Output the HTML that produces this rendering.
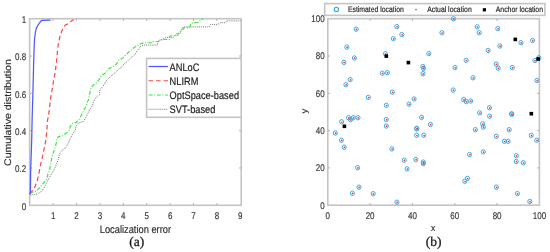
<!DOCTYPE html>
<html><head><meta charset="utf-8"><title>Figure</title>
<style>html,body{margin:0;padding:0;background:#fff;width:550px;height:252px;overflow:hidden}svg{display:block}</style>
</head><body>
<svg width="550" height="252" viewBox="0 0 550 252" text-rendering="geometricPrecision"><rect width="550" height="252" fill="#fff"/><rect x="29.65" y="18.7" width="211.55" height="186.60" fill="none" stroke="#c4c4c4" stroke-width="1.6"/>
<path d="M53.10 205.3v-2.2M53.10 18.7v2.2M76.50 205.3v-2.2M76.50 18.7v2.2M99.90 205.3v-2.2M99.90 18.7v2.2M123.30 205.3v-2.2M123.30 18.7v2.2M146.70 205.3v-2.2M146.70 18.7v2.2M170.10 205.3v-2.2M170.10 18.7v2.2M193.50 205.3v-2.2M193.50 18.7v2.2M216.90 205.3v-2.2M216.90 18.7v2.2M29.65 167.98h2.2M241.2 167.98h-2.2M29.65 130.66h2.2M241.2 130.66h-2.2M29.65 93.34h2.2M241.2 93.34h-2.2M29.65 56.02h2.2M241.2 56.02h-2.2" stroke="#b2b2b2" stroke-width="1.0" fill="none"/>
<text transform="translate(53.10 218.80) scale(1 1.22)" text-anchor="middle" font-family="'Liberation Sans', Arial, sans-serif" font-size="8.0" fill="#3a3a3a" stroke="#3a3a3a" stroke-width="0.15">1</text><text transform="translate(76.50 218.80) scale(1 1.22)" text-anchor="middle" font-family="'Liberation Sans', Arial, sans-serif" font-size="8.0" fill="#3a3a3a" stroke="#3a3a3a" stroke-width="0.15">2</text><text transform="translate(99.90 218.80) scale(1 1.22)" text-anchor="middle" font-family="'Liberation Sans', Arial, sans-serif" font-size="8.0" fill="#3a3a3a" stroke="#3a3a3a" stroke-width="0.15">3</text><text transform="translate(123.30 218.80) scale(1 1.22)" text-anchor="middle" font-family="'Liberation Sans', Arial, sans-serif" font-size="8.0" fill="#3a3a3a" stroke="#3a3a3a" stroke-width="0.15">4</text><text transform="translate(146.70 218.80) scale(1 1.22)" text-anchor="middle" font-family="'Liberation Sans', Arial, sans-serif" font-size="8.0" fill="#3a3a3a" stroke="#3a3a3a" stroke-width="0.15">5</text><text transform="translate(170.10 218.80) scale(1 1.22)" text-anchor="middle" font-family="'Liberation Sans', Arial, sans-serif" font-size="8.0" fill="#3a3a3a" stroke="#3a3a3a" stroke-width="0.15">6</text><text transform="translate(193.50 218.80) scale(1 1.22)" text-anchor="middle" font-family="'Liberation Sans', Arial, sans-serif" font-size="8.0" fill="#3a3a3a" stroke="#3a3a3a" stroke-width="0.15">7</text><text transform="translate(216.90 218.80) scale(1 1.22)" text-anchor="middle" font-family="'Liberation Sans', Arial, sans-serif" font-size="8.0" fill="#3a3a3a" stroke="#3a3a3a" stroke-width="0.15">8</text><text transform="translate(240.30 218.80) scale(1 1.22)" text-anchor="middle" font-family="'Liberation Sans', Arial, sans-serif" font-size="8.0" fill="#3a3a3a" stroke="#3a3a3a" stroke-width="0.15">9</text><text transform="translate(26.20 209.50) scale(1 1.22)" text-anchor="end" font-family="'Liberation Sans', Arial, sans-serif" font-size="8.0" fill="#3a3a3a" stroke="#3a3a3a" stroke-width="0.15">0</text><text transform="translate(26.20 172.18) scale(1 1.22)" text-anchor="end" font-family="'Liberation Sans', Arial, sans-serif" font-size="8.0" fill="#3a3a3a" stroke="#3a3a3a" stroke-width="0.15">0.2</text><text transform="translate(26.20 134.86) scale(1 1.22)" text-anchor="end" font-family="'Liberation Sans', Arial, sans-serif" font-size="8.0" fill="#3a3a3a" stroke="#3a3a3a" stroke-width="0.15">0.4</text><text transform="translate(26.20 97.54) scale(1 1.22)" text-anchor="end" font-family="'Liberation Sans', Arial, sans-serif" font-size="8.0" fill="#3a3a3a" stroke="#3a3a3a" stroke-width="0.15">0.6</text><text transform="translate(26.20 60.22) scale(1 1.22)" text-anchor="end" font-family="'Liberation Sans', Arial, sans-serif" font-size="8.0" fill="#3a3a3a" stroke="#3a3a3a" stroke-width="0.15">0.8</text><text transform="translate(26.20 22.90) scale(1 1.22)" text-anchor="end" font-family="'Liberation Sans', Arial, sans-serif" font-size="8.0" fill="#3a3a3a" stroke="#3a3a3a" stroke-width="0.15">1</text>
<text transform="translate(135.40 232.90) scale(1 1.17)" text-anchor="middle" font-family="'Liberation Sans', Arial, sans-serif" font-size="9.3" fill="#2e2e2e" stroke="#2e2e2e" stroke-width="0.15">Localization error</text>
<text transform="translate(10.90 112.60) scale(1 1.1) rotate(-90)" text-anchor="middle" font-family="'Liberation Sans', Arial, sans-serif" font-size="9.6" fill="#2e2e2e" stroke="#2e2e2e" stroke-width="0.15">Cumulative distribution</text>
<text x="136.8" y="245.9" text-anchor="middle" font-family="'Liberation Serif', 'Times New Roman', serif" font-size="13.5" fill="#141414" stroke="#141414" stroke-width="0.25">(a)</text>
<g fill="none" stroke-linejoin="round">
<polyline points="29.6,194.9 32.8,194.9 37.5,193.8 41.5,191.4 43.9,188.2 46.3,183.4 48.7,178.7 51.1,174.7 53.4,170.7 55.8,165.9 58.2,159.6 59.3,154.9 60.9,151.7 63.3,149.4 65.6,147.8 68.0,143.8 70.4,138.3 72.8,133.5 75.2,130.3 76.0,126.3 78.3,123.2 83.1,121.6 83.8,121.5 85.4,118.3 87.8,113.6 90.2,108.8 92.5,105.6 94.1,100.1 96.5,96.9 99.7,94.5 99.8,89.7 102.9,86.5 106.1,81.0 110.9,76.2 114.8,73.0 118.0,69.8 121.2,67.5 124.4,63.5 126.7,61.9 129.9,58.7 132.1,56.8 134.5,55.0 137.3,50.6 140.5,46.4 144.6,45.0 157.5,45.0 157.9,43.1 158.7,40.5 164.3,38.5 165.5,37.5 173.0,37.5 175.4,35.6 176.2,33.6 180.2,33.2 181.3,29.6 183.3,26.9 209.5,26.9 210.5,24.4 217.9,24.4 220.0,22.7 225.2,22.7 226.7,20.9 240.5,20.9" stroke="#6a6a6a" stroke-width="0.95" stroke-dasharray="1 1.1"/>
<polyline points="29.6,193.3 31.2,192.7 35.2,191.4 37.5,189.8 39.9,187.4 42.3,184.2 44.7,181.8 47.1,178.7 47.9,173.9 49.5,170.7 50.3,165.9 51.8,158.0 52.9,154.1 54.5,149.4 56.1,143.8 56.9,138.3 58.5,136.7 62.5,135.9 65.6,133.5 68.8,131.1 70.4,126.3 72.8,123.2 76.0,122.4 78.3,120.7 80.6,116.7 83.0,112.0 85.4,107.2 87.0,103.3 88.9,98.5 89.8,92.9 91.0,88.2 93.3,85.0 95.0,84.1 98.2,81.0 101.3,75.4 104.5,73.8 108.5,69.0 112.5,66.7 115.6,65.1 118.8,60.3 122.8,57.9 126.0,54.8 129.1,51.6 131.5,50.0 134.2,47.4 139.4,44.3 143.6,42.8 151.6,42.7 153.2,41.5 158.7,41.5 160.2,40.4 163.9,39.5 169.4,39.5 169.8,36.0 177.0,35.6 178.2,34.4 180.6,31.6 181.7,30.4 184.0,28.0 189.6,27.6 191.1,23.0 198.0,22.3 202.2,19.2 203.2,18.9" stroke="#3ee83e" stroke-width="1.2" stroke-dasharray="4 1.6 1 1.6"/>
<polyline points="29.6,193.6 31.9,191.4 34.3,188.2 35.9,184.2 37.4,180.3 39.0,173.1 40.6,164.4 42.2,158.0 43.9,150.0 45.7,140.6 46.5,134.3 47.6,120.0 48.9,113.0 50.3,100.0 51.9,91.0 53.4,82.0 54.8,74.3 55.5,69.5 56.7,60.0 57.6,50.0 58.3,44.0 59.4,39.0 60.1,36.0 61.5,32.0 62.5,29.5 63.8,27.0 64.9,25.3 67.3,24.1 68.5,22.8 70.2,21.7 72.6,20.2 75.6,19.2" stroke="#ff4444" stroke-width="1.2" stroke-dasharray="4.5 3"/>
<polyline points="29.6,194.0 30.4,193.5 30.6,175.0 31.0,160.0 31.7,140.0 32.1,120.0 33.0,90.0 33.6,65.0 33.9,55.0 34.2,46.0 34.6,38.5 35.3,33.0 36.1,29.0 37.2,26.5 38.5,24.3 39.8,22.5 40.9,21.1 41.7,20.3 50.6,20.2" stroke="#4f57ff" stroke-width="1.25"/>
</g>
<rect x="146.6" y="58.4" width="94.6" height="58.9" fill="#fff" stroke="#c4c4c4" stroke-width="1.6"/>
<line x1="148.6" x2="168" y1="66.50" y2="66.50" stroke="#4c55ff" stroke-width="1.2" stroke-dasharray="none"/>
<text transform="translate(169.60 70.60) scale(1 1.17)" text-anchor="start" font-family="'Liberation Sans', Arial, sans-serif" font-size="9.25" fill="#1a1a1a" stroke="#1a1a1a" stroke-width="0.15">ANLoC</text>
<line x1="148.6" x2="168" y1="80.75" y2="80.75" stroke="#ff4444" stroke-width="1.2" stroke-dasharray="4.5 3"/>
<text transform="translate(169.60 84.85) scale(1 1.17)" text-anchor="start" font-family="'Liberation Sans', Arial, sans-serif" font-size="9.25" fill="#1a1a1a" stroke="#1a1a1a" stroke-width="0.15">NLIRM</text>
<line x1="148.6" x2="168" y1="95.00" y2="95.00" stroke="#3ee83e" stroke-width="1.2" stroke-dasharray="4 1.6 1 1.6"/>
<text transform="translate(169.60 99.10) scale(1 1.17)" text-anchor="start" font-family="'Liberation Sans', Arial, sans-serif" font-size="9.25" fill="#1a1a1a" stroke="#1a1a1a" stroke-width="0.15">OptSpace-based</text>
<line x1="148.6" x2="168" y1="109.25" y2="109.25" stroke="#777" stroke-width="1.2" stroke-dasharray="1 0.95"/>
<text transform="translate(169.60 113.35) scale(1 1.17)" text-anchor="start" font-family="'Liberation Sans', Arial, sans-serif" font-size="9.25" fill="#1a1a1a" stroke="#1a1a1a" stroke-width="0.15">SVT-based</text>
<rect x="327.8" y="18.7" width="211.60" height="186.50" fill="none" stroke="#c4c4c4" stroke-width="1.6"/>
<path d="M370.12 205.2v-2.2M370.12 18.7v2.2M327.8 167.90h2.2M539.4 167.90h-2.2M412.44 205.2v-2.2M412.44 18.7v2.2M327.8 130.60h2.2M539.4 130.60h-2.2M454.76 205.2v-2.2M454.76 18.7v2.2M327.8 93.30h2.2M539.4 93.30h-2.2M497.08 205.2v-2.2M497.08 18.7v2.2M327.8 56.00h2.2M539.4 56.00h-2.2" stroke="#b2b2b2" stroke-width="1.0" fill="none"/>
<text transform="translate(327.80 218.80) scale(1 1.22)" text-anchor="middle" font-family="'Liberation Sans', Arial, sans-serif" font-size="8.0" fill="#3a3a3a" stroke="#3a3a3a" stroke-width="0.15">0</text><text transform="translate(324.60 208.60) scale(1 1.22)" text-anchor="end" font-family="'Liberation Sans', Arial, sans-serif" font-size="8.0" fill="#3a3a3a" stroke="#3a3a3a" stroke-width="0.15">0</text><text transform="translate(370.12 218.80) scale(1 1.22)" text-anchor="middle" font-family="'Liberation Sans', Arial, sans-serif" font-size="8.0" fill="#3a3a3a" stroke="#3a3a3a" stroke-width="0.15">20</text><text transform="translate(324.60 171.30) scale(1 1.22)" text-anchor="end" font-family="'Liberation Sans', Arial, sans-serif" font-size="8.0" fill="#3a3a3a" stroke="#3a3a3a" stroke-width="0.15">20</text><text transform="translate(412.44 218.80) scale(1 1.22)" text-anchor="middle" font-family="'Liberation Sans', Arial, sans-serif" font-size="8.0" fill="#3a3a3a" stroke="#3a3a3a" stroke-width="0.15">40</text><text transform="translate(324.60 134.00) scale(1 1.22)" text-anchor="end" font-family="'Liberation Sans', Arial, sans-serif" font-size="8.0" fill="#3a3a3a" stroke="#3a3a3a" stroke-width="0.15">40</text><text transform="translate(454.76 218.80) scale(1 1.22)" text-anchor="middle" font-family="'Liberation Sans', Arial, sans-serif" font-size="8.0" fill="#3a3a3a" stroke="#3a3a3a" stroke-width="0.15">60</text><text transform="translate(324.60 96.70) scale(1 1.22)" text-anchor="end" font-family="'Liberation Sans', Arial, sans-serif" font-size="8.0" fill="#3a3a3a" stroke="#3a3a3a" stroke-width="0.15">60</text><text transform="translate(497.08 218.80) scale(1 1.22)" text-anchor="middle" font-family="'Liberation Sans', Arial, sans-serif" font-size="8.0" fill="#3a3a3a" stroke="#3a3a3a" stroke-width="0.15">80</text><text transform="translate(324.60 59.40) scale(1 1.22)" text-anchor="end" font-family="'Liberation Sans', Arial, sans-serif" font-size="8.0" fill="#3a3a3a" stroke="#3a3a3a" stroke-width="0.15">80</text><text transform="translate(539.40 218.80) scale(1 1.22)" text-anchor="middle" font-family="'Liberation Sans', Arial, sans-serif" font-size="8.0" fill="#3a3a3a" stroke="#3a3a3a" stroke-width="0.15">100</text><text transform="translate(324.60 22.10) scale(1 1.22)" text-anchor="end" font-family="'Liberation Sans', Arial, sans-serif" font-size="8.0" fill="#3a3a3a" stroke="#3a3a3a" stroke-width="0.15">100</text>
<text transform="translate(433.20 231.40) scale(1 1.08)" text-anchor="middle" font-family="'Liberation Sans', Arial, sans-serif" font-size="8.5" fill="#2e2e2e" stroke="#2e2e2e" stroke-width="0.15">x</text>
<text transform="translate(307.10 111.20) scale(1 1.12) rotate(-90)" text-anchor="middle" font-family="'Liberation Sans', Arial, sans-serif" font-size="8.6" fill="#2e2e2e" stroke="#2e2e2e" stroke-width="0.15">y</text>
<text x="433.6" y="245.9" text-anchor="middle" font-family="'Liberation Serif', 'Times New Roman', serif" font-size="13.5" fill="#141414" stroke="#141414" stroke-width="0.25">(b)</text>
<g>
<ellipse cx="356.2" cy="29.2" rx="2.05" ry="2.2" fill="none" stroke="#33a6ea" stroke-width="0.95"/>
<ellipse cx="346.8" cy="47.1" rx="2.05" ry="2.2" fill="none" stroke="#33a6ea" stroke-width="0.95"/>
<ellipse cx="354.4" cy="58.0" rx="2.05" ry="2.2" fill="none" stroke="#33a6ea" stroke-width="0.95"/>
<ellipse cx="343.9" cy="62.4" rx="2.05" ry="2.2" fill="none" stroke="#33a6ea" stroke-width="0.95"/>
<ellipse cx="396.8" cy="26.6" rx="2.05" ry="2.2" fill="none" stroke="#33a6ea" stroke-width="0.95"/>
<ellipse cx="401.8" cy="34.6" rx="2.05" ry="2.2" fill="none" stroke="#33a6ea" stroke-width="0.95"/>
<ellipse cx="393.3" cy="38.7" rx="2.05" ry="2.2" fill="none" stroke="#33a6ea" stroke-width="0.95"/>
<ellipse cx="385.4" cy="53.7" rx="2.05" ry="2.2" fill="none" stroke="#33a6ea" stroke-width="0.95"/>
<ellipse cx="428.8" cy="53.6" rx="2.05" ry="2.2" fill="none" stroke="#33a6ea" stroke-width="0.95"/>
<ellipse cx="453.4" cy="18.7" rx="2.05" ry="2.2" fill="none" stroke="#33a6ea" stroke-width="0.95"/>
<ellipse cx="441.9" cy="32.8" rx="2.05" ry="2.2" fill="none" stroke="#33a6ea" stroke-width="0.95"/>
<ellipse cx="477.2" cy="26.8" rx="2.05" ry="2.2" fill="none" stroke="#33a6ea" stroke-width="0.95"/>
<ellipse cx="479.2" cy="32.7" rx="2.05" ry="2.2" fill="none" stroke="#33a6ea" stroke-width="0.95"/>
<ellipse cx="466.1" cy="60.3" rx="2.05" ry="2.2" fill="none" stroke="#33a6ea" stroke-width="0.95"/>
<ellipse cx="497.8" cy="28.6" rx="2.05" ry="2.2" fill="none" stroke="#33a6ea" stroke-width="0.95"/>
<ellipse cx="521.0" cy="42.7" rx="2.05" ry="2.2" fill="none" stroke="#33a6ea" stroke-width="0.95"/>
<ellipse cx="532.5" cy="40.5" rx="2.05" ry="2.2" fill="none" stroke="#33a6ea" stroke-width="0.95"/>
<ellipse cx="499.8" cy="46.0" rx="2.05" ry="2.2" fill="none" stroke="#33a6ea" stroke-width="0.95"/>
<ellipse cx="488.1" cy="50.4" rx="2.05" ry="2.2" fill="none" stroke="#33a6ea" stroke-width="0.95"/>
<ellipse cx="534.9" cy="60.5" rx="2.05" ry="2.2" fill="none" stroke="#33a6ea" stroke-width="0.95"/>
<ellipse cx="538.9" cy="57.9" rx="2.05" ry="2.2" fill="none" stroke="#33a6ea" stroke-width="0.95"/>
<ellipse cx="496.2" cy="64.1" rx="2.05" ry="2.2" fill="none" stroke="#33a6ea" stroke-width="0.95"/>
<ellipse cx="350.2" cy="79.6" rx="2.05" ry="2.2" fill="none" stroke="#33a6ea" stroke-width="0.95"/>
<ellipse cx="345.9" cy="84.7" rx="2.05" ry="2.2" fill="none" stroke="#33a6ea" stroke-width="0.95"/>
<ellipse cx="368.3" cy="97.4" rx="2.05" ry="2.2" fill="none" stroke="#33a6ea" stroke-width="0.95"/>
<ellipse cx="382.3" cy="73.2" rx="2.05" ry="2.2" fill="none" stroke="#33a6ea" stroke-width="0.95"/>
<ellipse cx="387.3" cy="72.6" rx="2.05" ry="2.2" fill="none" stroke="#33a6ea" stroke-width="0.95"/>
<ellipse cx="422.8" cy="66.5" rx="2.05" ry="2.2" fill="none" stroke="#33a6ea" stroke-width="0.95"/>
<ellipse cx="423.5" cy="68.5" rx="2.05" ry="2.2" fill="none" stroke="#33a6ea" stroke-width="0.95"/>
<ellipse cx="423.0" cy="73.7" rx="2.05" ry="2.2" fill="none" stroke="#33a6ea" stroke-width="0.95"/>
<ellipse cx="392.3" cy="92.1" rx="2.05" ry="2.2" fill="none" stroke="#33a6ea" stroke-width="0.95"/>
<ellipse cx="414.1" cy="99.0" rx="2.05" ry="2.2" fill="none" stroke="#33a6ea" stroke-width="0.95"/>
<ellipse cx="409.0" cy="104.1" rx="2.05" ry="2.2" fill="none" stroke="#33a6ea" stroke-width="0.95"/>
<ellipse cx="386.3" cy="105.3" rx="2.05" ry="2.2" fill="none" stroke="#33a6ea" stroke-width="0.95"/>
<ellipse cx="455.0" cy="67.6" rx="2.05" ry="2.2" fill="none" stroke="#33a6ea" stroke-width="0.95"/>
<ellipse cx="473.0" cy="77.8" rx="2.05" ry="2.2" fill="none" stroke="#33a6ea" stroke-width="0.95"/>
<ellipse cx="453.2" cy="90.1" rx="2.05" ry="2.2" fill="none" stroke="#33a6ea" stroke-width="0.95"/>
<ellipse cx="463.7" cy="99.6" rx="2.05" ry="2.2" fill="none" stroke="#33a6ea" stroke-width="0.95"/>
<ellipse cx="466.3" cy="101.6" rx="2.05" ry="2.2" fill="none" stroke="#33a6ea" stroke-width="0.95"/>
<ellipse cx="470.7" cy="101.0" rx="2.05" ry="2.2" fill="none" stroke="#33a6ea" stroke-width="0.95"/>
<ellipse cx="498.2" cy="68.2" rx="2.05" ry="2.2" fill="none" stroke="#33a6ea" stroke-width="0.95"/>
<ellipse cx="512.3" cy="67.6" rx="2.05" ry="2.2" fill="none" stroke="#33a6ea" stroke-width="0.95"/>
<ellipse cx="536.9" cy="80.5" rx="2.05" ry="2.2" fill="none" stroke="#33a6ea" stroke-width="0.95"/>
<ellipse cx="489.5" cy="107.7" rx="2.05" ry="2.2" fill="none" stroke="#33a6ea" stroke-width="0.95"/>
<ellipse cx="348.5" cy="117.7" rx="2.05" ry="2.2" fill="none" stroke="#33a6ea" stroke-width="0.95"/>
<ellipse cx="350.5" cy="119.7" rx="2.05" ry="2.2" fill="none" stroke="#33a6ea" stroke-width="0.95"/>
<ellipse cx="353.3" cy="117.7" rx="2.05" ry="2.2" fill="none" stroke="#33a6ea" stroke-width="0.95"/>
<ellipse cx="358.0" cy="117.7" rx="2.05" ry="2.2" fill="none" stroke="#33a6ea" stroke-width="0.95"/>
<ellipse cx="341.6" cy="121.8" rx="2.05" ry="2.2" fill="none" stroke="#33a6ea" stroke-width="0.95"/>
<ellipse cx="335.3" cy="133.0" rx="2.05" ry="2.2" fill="none" stroke="#33a6ea" stroke-width="0.95"/>
<ellipse cx="341.4" cy="140.2" rx="2.05" ry="2.2" fill="none" stroke="#33a6ea" stroke-width="0.95"/>
<ellipse cx="344.2" cy="147.2" rx="2.05" ry="2.2" fill="none" stroke="#33a6ea" stroke-width="0.95"/>
<ellipse cx="386.3" cy="119.5" rx="2.05" ry="2.2" fill="none" stroke="#33a6ea" stroke-width="0.95"/>
<ellipse cx="386.3" cy="126.0" rx="2.05" ry="2.2" fill="none" stroke="#33a6ea" stroke-width="0.95"/>
<ellipse cx="421.6" cy="117.4" rx="2.05" ry="2.2" fill="none" stroke="#33a6ea" stroke-width="0.95"/>
<ellipse cx="416.6" cy="128.3" rx="2.05" ry="2.2" fill="none" stroke="#33a6ea" stroke-width="0.95"/>
<ellipse cx="416.8" cy="128.9" rx="2.05" ry="2.2" fill="none" stroke="#33a6ea" stroke-width="0.95"/>
<ellipse cx="416.7" cy="135.3" rx="2.05" ry="2.2" fill="none" stroke="#33a6ea" stroke-width="0.95"/>
<ellipse cx="423.8" cy="135.3" rx="2.05" ry="2.2" fill="none" stroke="#33a6ea" stroke-width="0.95"/>
<ellipse cx="430.4" cy="124.5" rx="2.05" ry="2.2" fill="none" stroke="#33a6ea" stroke-width="0.95"/>
<ellipse cx="391.8" cy="148.9" rx="2.05" ry="2.2" fill="none" stroke="#33a6ea" stroke-width="0.95"/>
<ellipse cx="479.6" cy="112.9" rx="2.05" ry="2.2" fill="none" stroke="#33a6ea" stroke-width="0.95"/>
<ellipse cx="475.4" cy="129.7" rx="2.05" ry="2.2" fill="none" stroke="#33a6ea" stroke-width="0.95"/>
<ellipse cx="469.6" cy="154.5" rx="2.05" ry="2.2" fill="none" stroke="#33a6ea" stroke-width="0.95"/>
<ellipse cx="489.6" cy="116.2" rx="2.05" ry="2.2" fill="none" stroke="#33a6ea" stroke-width="0.95"/>
<ellipse cx="511.6" cy="113.8" rx="2.05" ry="2.2" fill="none" stroke="#33a6ea" stroke-width="0.95"/>
<ellipse cx="511.8" cy="114.3" rx="2.05" ry="2.2" fill="none" stroke="#33a6ea" stroke-width="0.95"/>
<ellipse cx="482.6" cy="123.8" rx="2.05" ry="2.2" fill="none" stroke="#33a6ea" stroke-width="0.95"/>
<ellipse cx="483.3" cy="127.1" rx="2.05" ry="2.2" fill="none" stroke="#33a6ea" stroke-width="0.95"/>
<ellipse cx="509.2" cy="129.7" rx="2.05" ry="2.2" fill="none" stroke="#33a6ea" stroke-width="0.95"/>
<ellipse cx="496.4" cy="136.3" rx="2.05" ry="2.2" fill="none" stroke="#33a6ea" stroke-width="0.95"/>
<ellipse cx="504.4" cy="141.3" rx="2.05" ry="2.2" fill="none" stroke="#33a6ea" stroke-width="0.95"/>
<ellipse cx="508.1" cy="141.3" rx="2.05" ry="2.2" fill="none" stroke="#33a6ea" stroke-width="0.95"/>
<ellipse cx="531.3" cy="135.4" rx="2.05" ry="2.2" fill="none" stroke="#33a6ea" stroke-width="0.95"/>
<ellipse cx="536.7" cy="140.2" rx="2.05" ry="2.2" fill="none" stroke="#33a6ea" stroke-width="0.95"/>
<ellipse cx="483.3" cy="151.9" rx="2.05" ry="2.2" fill="none" stroke="#33a6ea" stroke-width="0.95"/>
<ellipse cx="516.3" cy="155.7" rx="2.05" ry="2.2" fill="none" stroke="#33a6ea" stroke-width="0.95"/>
<ellipse cx="516.2" cy="161.5" rx="2.05" ry="2.2" fill="none" stroke="#33a6ea" stroke-width="0.95"/>
<ellipse cx="523.3" cy="162.7" rx="2.05" ry="2.2" fill="none" stroke="#33a6ea" stroke-width="0.95"/>
<ellipse cx="357.6" cy="167.7" rx="2.05" ry="2.2" fill="none" stroke="#33a6ea" stroke-width="0.95"/>
<ellipse cx="359.0" cy="187.2" rx="2.05" ry="2.2" fill="none" stroke="#33a6ea" stroke-width="0.95"/>
<ellipse cx="352.4" cy="193.2" rx="2.05" ry="2.2" fill="none" stroke="#33a6ea" stroke-width="0.95"/>
<ellipse cx="373.2" cy="193.7" rx="2.05" ry="2.2" fill="none" stroke="#33a6ea" stroke-width="0.95"/>
<ellipse cx="404.2" cy="160.2" rx="2.05" ry="2.2" fill="none" stroke="#33a6ea" stroke-width="0.95"/>
<ellipse cx="415.8" cy="159.5" rx="2.05" ry="2.2" fill="none" stroke="#33a6ea" stroke-width="0.95"/>
<ellipse cx="423.3" cy="162.1" rx="2.05" ry="2.2" fill="none" stroke="#33a6ea" stroke-width="0.95"/>
<ellipse cx="423.3" cy="163.7" rx="2.05" ry="2.2" fill="none" stroke="#33a6ea" stroke-width="0.95"/>
<ellipse cx="407.1" cy="168.9" rx="2.05" ry="2.2" fill="none" stroke="#33a6ea" stroke-width="0.95"/>
<ellipse cx="396.9" cy="202.2" rx="2.05" ry="2.2" fill="none" stroke="#33a6ea" stroke-width="0.95"/>
<ellipse cx="467.4" cy="178.4" rx="2.05" ry="2.2" fill="none" stroke="#33a6ea" stroke-width="0.95"/>
<ellipse cx="464.8" cy="181.3" rx="2.05" ry="2.2" fill="none" stroke="#33a6ea" stroke-width="0.95"/>
<ellipse cx="496.4" cy="187.2" rx="2.05" ry="2.2" fill="none" stroke="#33a6ea" stroke-width="0.95"/>
<ellipse cx="517.4" cy="193.6" rx="2.05" ry="2.2" fill="none" stroke="#33a6ea" stroke-width="0.95"/>
<ellipse cx="529.8" cy="201.5" rx="2.05" ry="2.2" fill="none" stroke="#33a6ea" stroke-width="0.95"/>
<circle cx="356.4" cy="29.4" r="0.85" fill="#f03a30"/>
<circle cx="347.1" cy="47.3" r="0.85" fill="#f03a30"/>
<circle cx="354.6" cy="58.2" r="0.85" fill="#f03a30"/>
<circle cx="344.1" cy="62.6" r="0.85" fill="#f03a30"/>
<circle cx="397.1" cy="26.8" r="0.85" fill="#f03a30"/>
<circle cx="402.1" cy="34.8" r="0.85" fill="#f03a30"/>
<circle cx="393.6" cy="38.9" r="0.85" fill="#f03a30"/>
<circle cx="385.6" cy="53.9" r="0.85" fill="#f03a30"/>
<circle cx="429.1" cy="53.8" r="0.85" fill="#f03a30"/>
<circle cx="453.6" cy="18.9" r="0.85" fill="#f03a30"/>
<circle cx="442.1" cy="33.0" r="0.85" fill="#f03a30"/>
<circle cx="477.4" cy="27.0" r="0.85" fill="#f03a30"/>
<circle cx="479.4" cy="32.9" r="0.85" fill="#f03a30"/>
<circle cx="466.4" cy="60.5" r="0.85" fill="#f03a30"/>
<circle cx="498.1" cy="28.8" r="0.85" fill="#f03a30"/>
<circle cx="521.2" cy="42.9" r="0.85" fill="#f03a30"/>
<circle cx="532.8" cy="40.7" r="0.85" fill="#f03a30"/>
<circle cx="500.1" cy="46.2" r="0.85" fill="#f03a30"/>
<circle cx="488.4" cy="50.6" r="0.85" fill="#f03a30"/>
<circle cx="535.1" cy="60.7" r="0.85" fill="#f03a30"/>
<circle cx="539.1" cy="58.1" r="0.85" fill="#f03a30"/>
<circle cx="496.4" cy="64.3" r="0.85" fill="#f03a30"/>
<circle cx="350.4" cy="79.8" r="0.85" fill="#f03a30"/>
<circle cx="346.1" cy="84.9" r="0.85" fill="#f03a30"/>
<circle cx="368.6" cy="97.6" r="0.85" fill="#f03a30"/>
<circle cx="382.6" cy="73.4" r="0.85" fill="#f03a30"/>
<circle cx="387.6" cy="72.8" r="0.85" fill="#f03a30"/>
<circle cx="423.1" cy="66.7" r="0.85" fill="#f03a30"/>
<circle cx="423.8" cy="68.7" r="0.85" fill="#f03a30"/>
<circle cx="423.2" cy="73.9" r="0.85" fill="#f03a30"/>
<circle cx="392.6" cy="92.3" r="0.85" fill="#f03a30"/>
<circle cx="414.4" cy="99.2" r="0.85" fill="#f03a30"/>
<circle cx="409.2" cy="104.3" r="0.85" fill="#f03a30"/>
<circle cx="386.6" cy="105.5" r="0.85" fill="#f03a30"/>
<circle cx="455.2" cy="67.8" r="0.85" fill="#f03a30"/>
<circle cx="473.2" cy="78.0" r="0.85" fill="#f03a30"/>
<circle cx="453.4" cy="90.3" r="0.85" fill="#f03a30"/>
<circle cx="463.9" cy="99.8" r="0.85" fill="#f03a30"/>
<circle cx="466.6" cy="101.8" r="0.85" fill="#f03a30"/>
<circle cx="470.9" cy="101.2" r="0.85" fill="#f03a30"/>
<circle cx="498.4" cy="68.4" r="0.85" fill="#f03a30"/>
<circle cx="512.5" cy="67.8" r="0.85" fill="#f03a30"/>
<circle cx="537.1" cy="80.7" r="0.85" fill="#f03a30"/>
<circle cx="489.8" cy="107.9" r="0.85" fill="#f03a30"/>
<circle cx="348.8" cy="117.9" r="0.85" fill="#f03a30"/>
<circle cx="350.8" cy="119.9" r="0.85" fill="#f03a30"/>
<circle cx="353.6" cy="117.9" r="0.85" fill="#f03a30"/>
<circle cx="358.2" cy="117.9" r="0.85" fill="#f03a30"/>
<circle cx="341.9" cy="122.0" r="0.85" fill="#f03a30"/>
<circle cx="335.6" cy="133.2" r="0.85" fill="#f03a30"/>
<circle cx="341.6" cy="140.4" r="0.85" fill="#f03a30"/>
<circle cx="344.4" cy="147.4" r="0.85" fill="#f03a30"/>
<circle cx="386.6" cy="119.7" r="0.85" fill="#f03a30"/>
<circle cx="386.6" cy="126.2" r="0.85" fill="#f03a30"/>
<circle cx="421.9" cy="117.6" r="0.85" fill="#f03a30"/>
<circle cx="416.9" cy="128.5" r="0.85" fill="#f03a30"/>
<circle cx="417.1" cy="129.1" r="0.85" fill="#f03a30"/>
<circle cx="416.9" cy="135.5" r="0.85" fill="#f03a30"/>
<circle cx="424.1" cy="135.5" r="0.85" fill="#f03a30"/>
<circle cx="430.6" cy="124.7" r="0.85" fill="#f03a30"/>
<circle cx="392.1" cy="149.1" r="0.85" fill="#f03a30"/>
<circle cx="479.9" cy="113.1" r="0.85" fill="#f03a30"/>
<circle cx="475.6" cy="129.9" r="0.85" fill="#f03a30"/>
<circle cx="469.9" cy="154.7" r="0.85" fill="#f03a30"/>
<circle cx="489.9" cy="116.4" r="0.85" fill="#f03a30"/>
<circle cx="511.9" cy="114.0" r="0.85" fill="#f03a30"/>
<circle cx="512.0" cy="114.5" r="0.85" fill="#f03a30"/>
<circle cx="482.9" cy="124.0" r="0.85" fill="#f03a30"/>
<circle cx="483.6" cy="127.3" r="0.85" fill="#f03a30"/>
<circle cx="509.4" cy="129.9" r="0.85" fill="#f03a30"/>
<circle cx="496.6" cy="136.5" r="0.85" fill="#f03a30"/>
<circle cx="504.6" cy="141.5" r="0.85" fill="#f03a30"/>
<circle cx="508.4" cy="141.5" r="0.85" fill="#f03a30"/>
<circle cx="531.5" cy="135.6" r="0.85" fill="#f03a30"/>
<circle cx="537.0" cy="140.4" r="0.85" fill="#f03a30"/>
<circle cx="483.6" cy="152.1" r="0.85" fill="#f03a30"/>
<circle cx="516.5" cy="155.9" r="0.85" fill="#f03a30"/>
<circle cx="516.5" cy="161.7" r="0.85" fill="#f03a30"/>
<circle cx="523.5" cy="162.9" r="0.85" fill="#f03a30"/>
<circle cx="357.9" cy="167.9" r="0.85" fill="#f03a30"/>
<circle cx="359.2" cy="187.4" r="0.85" fill="#f03a30"/>
<circle cx="352.6" cy="193.4" r="0.85" fill="#f03a30"/>
<circle cx="373.4" cy="193.9" r="0.85" fill="#f03a30"/>
<circle cx="404.4" cy="160.4" r="0.85" fill="#f03a30"/>
<circle cx="416.1" cy="159.7" r="0.85" fill="#f03a30"/>
<circle cx="423.6" cy="162.3" r="0.85" fill="#f03a30"/>
<circle cx="423.6" cy="163.9" r="0.85" fill="#f03a30"/>
<circle cx="407.4" cy="169.1" r="0.85" fill="#f03a30"/>
<circle cx="397.1" cy="202.4" r="0.85" fill="#f03a30"/>
<circle cx="467.6" cy="178.6" r="0.85" fill="#f03a30"/>
<circle cx="465.1" cy="181.5" r="0.85" fill="#f03a30"/>
<circle cx="496.6" cy="187.4" r="0.85" fill="#f03a30"/>
<circle cx="517.6" cy="193.8" r="0.85" fill="#f03a30"/>
<circle cx="530.0" cy="201.7" r="0.85" fill="#f03a30"/>
<rect x="384.5" y="54.3" width="3.6" height="3.6" fill="#000"/>
<rect x="406.6" y="60.8" width="3.6" height="3.6" fill="#000"/>
<rect x="513.5" y="37.6" width="3.6" height="3.6" fill="#000"/>
<rect x="536.3" y="57.2" width="3.6" height="3.6" fill="#000"/>
<rect x="342.6" y="124.5" width="3.6" height="3.6" fill="#000"/>
<rect x="529.5" y="111.9" width="3.6" height="3.6" fill="#000"/>
</g>
<rect x="324.7" y="3.6" width="220.2" height="11.8" fill="#fff" stroke="#c4c4c4" stroke-width="1.6"/>
<circle cx="336.4" cy="9.4" r="2.15" fill="none" stroke="#33a6ea" stroke-width="1.1"/>
<circle cx="416" cy="9.6" r="0.8" fill="#f03a3a"/>
<rect x="482.8" y="8.2" width="3.2" height="3.2" fill="#000"/>
<text transform="translate(347.90 12.10) scale(1 1.17)" text-anchor="start" font-family="'Liberation Sans', Arial, sans-serif" font-size="6.85" fill="#1e1e1e" stroke="#1e1e1e" stroke-width="0.15">Estimated location</text>
<text transform="translate(427.20 12.10) scale(1 1.17)" text-anchor="start" font-family="'Liberation Sans', Arial, sans-serif" font-size="6.85" fill="#1e1e1e" stroke="#1e1e1e" stroke-width="0.15">Actual location</text>
<text transform="translate(495.80 12.10) scale(1 1.17)" text-anchor="start" font-family="'Liberation Sans', Arial, sans-serif" font-size="6.85" fill="#1e1e1e" stroke="#1e1e1e" stroke-width="0.15">Anchor location</text></svg>
</body></html>
